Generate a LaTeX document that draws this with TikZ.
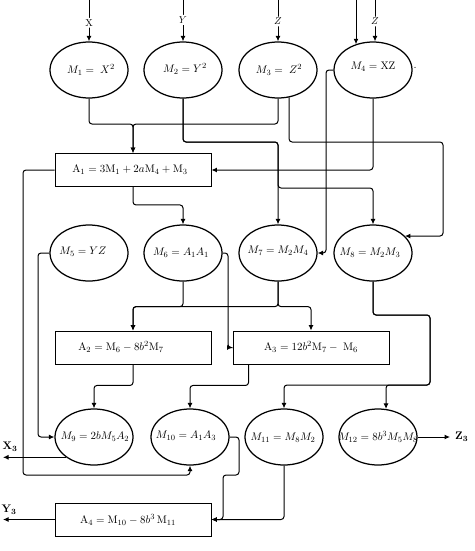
\documentclass[tikz,border=0pt]{standalone}
\usetikzlibrary{shapes.geometric,arrows.meta}
\begin{document}
\begin{tikzpicture}[x=1pt,y=-1pt,
  txt/.style={inner sep=0pt, font=\fontsize{10.8}{12}\selectfont},
  ell/.style={draw, ellipse, line width=1.25pt, minimum width=78pt, minimum height=56pt, inner sep=0pt},
  box/.style={draw, rectangle, line width=0.9pt, minimum width=156pt, minimum height=33pt, inner sep=0pt},
  con/.style={line width=1pt, rounded corners=3pt},
  arr/.style={con, -{Latex[length=5.5pt,width=5pt]}},
  lab/.style={fill=white, inner sep=1.5pt, font=\fontsize{10}{11}\selectfont},
  outlab/.style={inner sep=0pt, font=\fontsize{10.8}{12}\selectfont}]
\useasboundingbox (0,0) rectangle (474,551);

% ellipses
\node[ell] (m1) at (89,70) {};
\node[txt] (m1t) at (91,70) {$M_1 = \;X^2$};
\node[ell] (m2) at (183,70) {};
\node[txt] (m2t) at (185,69) {$M_2 = Y^2$};
\node[ell] (m3) at (278,70) {};
\node[txt] (m3t) at (279,70) {$M_3 = \;Z^2$};
\node[ell] (m4) at (373,70) {};
\node[txt] (m4t) at (373,67) {$M_4 = \mathrm{XZ}$};
\node[txt] (dot) at (415,68) {.};

\node[ell] (m5) at (89,253) {};
\node[txt] (m5t) at (83,252) {$M_5 = YZ$};
\node[ell] (m6) at (183,253) {};
\node[txt] (m6t) at (181,253) {$M_6 = A_1A_1$};
\node[ell] (m7) at (278,253) {};
\node[txt] (m7t) at (278,251) {$M_7 = M_2M_4$};
\node[ell] (m8) at (373,253) {};
\node[txt] (m8t) at (370,253) {$M_8 = M_2M_3$};

\node[ell] (m9) at (94,437) {};
\node[txt] (m9t) at (95,437) {$M_9 = 2bM_5A_2$};
\node[ell] (m10) at (190,437) {};
\node[txt] (m10t) at (186,436) {$M_{10} = A_1A_3$};
\node[ell] (m11) at (284,437) {};
\node[txt] (m11t) at (283,438) {$M_{11} = M_8M_2$};
\node[ell] (m12) at (378,437) {};
\node[txt] (m12t) at (378,437) {$M_{12} = 8b^3M_5M_8$};

% boxes
\node[box] (a1) at (133,170) {};
\node[txt] (a1t) at (130,170) {$\mathrm{A_1 = 3M_1 + 2}a\mathrm{M_4 + M_3}$};
\node[box] (a2) at (133,347.5) {};
\node[txt] (a2t) at (121,347) {$\mathrm{A_2 = M_6 - 8}b^2\mathrm{M_7}$};
\node[box] (a3) at (311,347.5) {};
\node[txt] (a3t) at (311,347) {$\mathrm{A_3 = 12}b^2\mathrm{M_7 -\; M_6}$};
\node[box] (a4) at (133,519.5) {};
\node[txt] (a4t) at (128,520) {$\mathrm{A_4 = M_{10} - 8}b^3\,\mathrm{M_{11}}$};

% inputs
\coordinate (inX) at (89,0);
\coordinate (inY) at (183,0);
\coordinate (inZ) at (278,0);
\coordinate (inW) at (356,0);
\coordinate (inZ2) at (375,0);
\draw[arr] (inX) -- node[lab, pos=0.55] (lx) {X} (m1.north);
\draw[arr] (inY) -- node[lab, pos=0.48] (ly) {$Y$} (m2.north);
\draw[arr] (inZ) -- node[lab, pos=0.52] (lz) {$Z$} (m3.north);
\draw[arr] (inW) -- (inW |- m4.124);
\draw[arr] (inZ2) -- node[lab, pos=0.52] (lz2) {$Z$} (inZ2 |- m4.north);

% M1, M3 -> A1
\coordinate (j1) at (133,124);
\draw[arr] (m1.south) |- (j1) -- (a1.north);
\draw[arr] (m3.south) |- (j1) -- (a1.north);
% M4 -> A1
\draw[arr] (m4.south) |- (a1.east);
% M2 -> M7, M8
\coordinate (j2) at (278,142);
\coordinate (j3) at (278,188);
\draw[arr] (m2.south) |- (j2) -- (m7.north);
\draw[arr] (m2.south) |- (j2) -- (j3) -| (m8.north);
% M3 -> M8
\coordinate (c1) at (443,142);
\draw[arr] (m3.-68) |- (c1) |- (m8.28);
% M4 -> M7
\coordinate (k1) at (326,253);
\draw[arr] (m4.west) -| (k1) -- (m7.east);
% A1 -> M6
\draw[arr] (a1.south) -- ++(0,18) -| (m6.north);
% A1 -> M10
\coordinate (l1) at (23,475);
\draw[arr] (a1.west) -| (l1) -| (m10.south);
% M5 -> M9
\coordinate (l2) at (38,350);
\draw[arr] (m5.west) -| (l2) |- (m9.west);
% M6 -> A3
\coordinate (l3) at (228,300);
\draw[arr] (m6.east) -| (l3) |- (a3.west);
% M6, M7 -> A2, A3
\draw[arr] (m6.south) -- ++(0,25) -| (a2.north);
\draw[arr] (m7.south) -- ++(0,25) -| (a2.north);
\draw[arr] (m7.south) -- ++(0,25) -| (a3.north);
% A2 -> M9, A3 -> M10
\draw[arr] (a2.south) -- ++(0,21) -| (m9.north);
\draw[arr] ([xshift=16pt]a3.south west) -- ++(0,21) -| (m10.north);
% M8 -> M11, M12
\coordinate (r1) at (430,315);
\coordinate (r2) at (430,385);
\draw[arr] (m8.south) |- (r1) -- (r2) -| (m11.north);
\draw[arr] (m8.south) |- (r1) -- (r2) -| (m12.74);
% M9 -> X3
\coordinate (x3e) at (3,457);
\draw[arr] (m9.216) -- (m9.216 -| x3e);
\node[outlab] (x3) at (10,447) {$\mathbf{X_3}$};
% M10 -> A4
\coordinate (p1) at (239,475);
\coordinate (p2) at (223,475);
\draw[arr] (m10.east) -| (p1) -- (p2) |- (a4.east);
% M11 -> A4
\draw[arr] (m11.south) |- (a4.east);
% M12 -> Z3
\coordinate (z3e) at (450,437);
\draw[arr] (m12.east) -- (z3e);
\node[outlab, anchor=west] (z3) at (455,437) {$\mathbf{Z_3}$};
% A4 -> Y3
\coordinate (y3e) at (3,519.5);
\draw[arr] (a4.west) -- (y3e);
\node[outlab] (y3) at (9,510) {$\mathbf{Y_3}$};
\end{tikzpicture}
\end{document}
